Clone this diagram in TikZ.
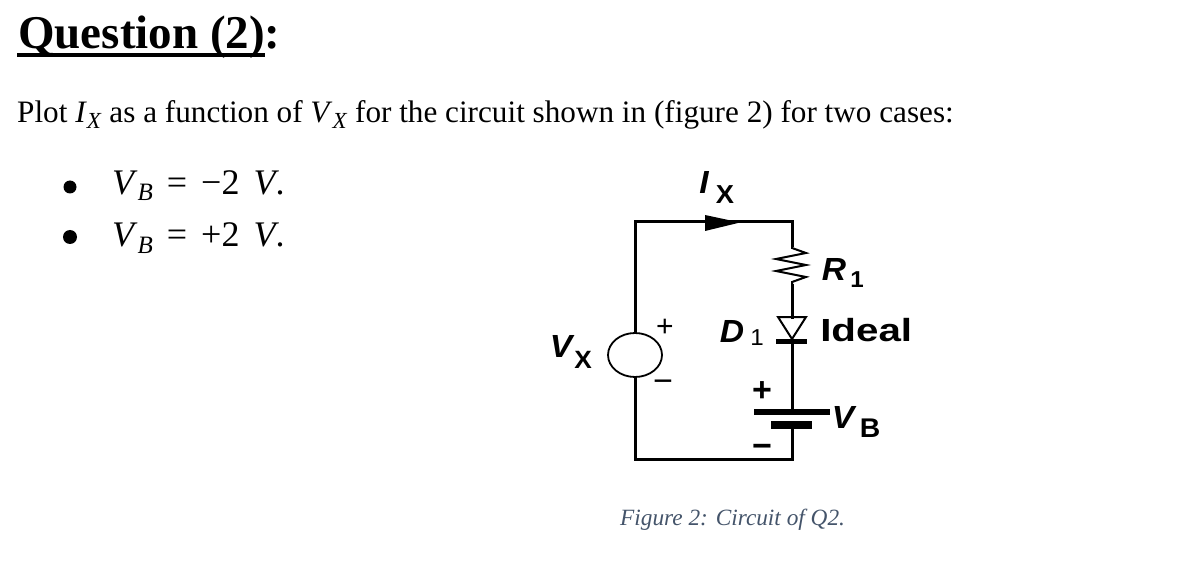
\documentclass[tikz,border=0pt]{standalone}
\usepackage{fontspec}
\setmainfont{Liberation Serif}
\setsansfont{Liberation Sans}
\usetikzlibrary{positioning,shapes.geometric,calc}
\definecolor{caption-blue}{HTML}{44546A}
\newcommand{\subvar}[3]{\textit{#1}\raisebox{-6pt}{\fontsize{#3}{#3}\selectfont\textit{#2}}}
\tikzset{
  txt/.style={anchor=base west,inner sep=0pt,font=\fontsize{31.2}{36}\selectfont},
  lbl/.style={inner sep=0pt,font=\sffamily\bfseries\fontsize{28}{32}\selectfont,xscale=1.05},
  ital/.style={lbl,font=\sffamily\bfseries\itshape\fontsize{32}{36}\selectfont},
  sgn/.style={inner sep=0pt,font=\sffamily\fontsize{30}{30}\selectfont},
  dot/.style={circle,fill=black,inner sep=0pt,minimum size=13pt},
  wire/.style={line width=3pt,line cap=rect}
}
\begin{document}
\begin{tikzpicture}[x=1pt,y=-1pt]
    \useasboundingbox (0,0) rectangle (1194,564);

    \node[txt,font=\bfseries\fontsize{47}{52}\selectfont] (title) at (18,49) {Question (2):};
    \draw[line width=4pt] (17,55.5) -- (265,55.5);
    \node[txt] (plot) at (17,123) {Plot \subvar{I}{X}{23} as a function of \subvar{V}{X}{23} for the circuit shown in (figure 2) for two cases:};

    \node[dot] (b1) at (70,187) {};
    \node[dot,minimum size=14pt] (b2) at (70,237) {};
    \node[txt,font=\fontsize{36}{38}\selectfont] (case1) at (112,195) {\subvar{V}{B}{25}\hspace{14pt}=\hspace{14pt}−2\hspace{14pt}\textit{V}.};
    \node[txt,font=\fontsize{36}{38}\selectfont] (case2) at (112,247) {\subvar{V}{B}{25}\hspace{14pt}=\hspace{14pt}+2\hspace{14pt}\textit{V}.};

    % circuit
    \coordinate (tl) at (635,222);
    \coordinate (tr) at (792,222);
    \coordinate (bl) at (635,459);
    \coordinate (br) at (792,459);
    \node[ellipse,draw,line width=1.8pt,inner sep=0pt,minimum width=54pt,minimum height=44pt] (vx) at (635,355) {};
    \coordinate (rtop) at (792,245);
    \coordinate (rbot) at (792,285);
    \coordinate (dtop) at (792,317);
    \coordinate (dbar) at (792,341);
    \coordinate (pl1) at (792,412);
    \coordinate (pl2) at (792,425);

    \draw[wire] (vx.north) -- (tl) -- (tr) -- (rtop);
    \draw[line width=2pt] (rtop) -- ++(0,3) -- ++(14,5) -- ++(-30,6) -- ++(30,6) -- ++(-30,6) -- ++(30,6) -- ++(-14,5) -- (rbot);
    \draw[wire] (rbot) -- (dtop);
    \draw[line width=2pt,line join=miter] (778,317) -- (806,317) -- (792,339) -- cycle;
    \draw[line width=5pt] (776,341) -- (807,341);
    \draw[wire] (dbar) -- (pl1);
    \draw[line width=6pt] (754,412) -- (830,412);
    \draw[line width=8pt] (771,425) -- (812,425);
    \draw[wire] (pl2) -- (br) -- (bl) -- (vx.south);

    \fill (705,215) -- (740,222.5) -- (705,231) -- cycle;

    \node[ital] (ix) at (704,182) {I};
    \node[lbl,font=\sffamily\bfseries\fontsize{26}{30}\selectfont] (ixs) at (725,195) {X};
    \node[ital] (r1) at (834,269) {R};
    \node[lbl,font=\sffamily\bfseries\fontsize{23}{26}\selectfont,xscale=1] (r1s) at (857,280) {1};
    \node[ital] (d1l) at (732,331) {D};
    \node[lbl,font=\sffamily\fontsize{23}{26}\selectfont,xscale=1] (d1s) at (757,338) {1};
    \node[lbl,font=\sffamily\bfseries\fontsize{32}{36}\selectfont,anchor=west,xscale=1.2] (ideal) at (820,330) {Ideal};
    \node[ital] (vxl) at (561,346) {V};
    \node[lbl,font=\sffamily\bfseries\fontsize{25}{28}\selectfont] (vxs) at (583,360) {X};
    \node[ital] (vbl) at (843,417) {V};
    \node[lbl,font=\sffamily\bfseries\fontsize{27}{30}\selectfont] (vbs) at (870,428) {B};

    \node[sgn] (vxp) at (665,328) {+};
    \node[sgn,font=\sffamily\fontsize{34}{34}\selectfont] (vxm) at (663,386) {\textminus};
    \node[sgn,font=\sffamily\bfseries\fontsize{34}{34}\selectfont] (vbp) at (762,392) {+};
    \node[sgn,font=\sffamily\bfseries\fontsize{34}{34}\selectfont] (vbm) at (762,451) {\textminus};

    \node[txt,font=\itshape\fontsize{23.3}{28}\selectfont,text=caption-blue] (cap) at (620,525) {Figure 2: Circuit of Q2.};
\end{tikzpicture}
\end{document}
